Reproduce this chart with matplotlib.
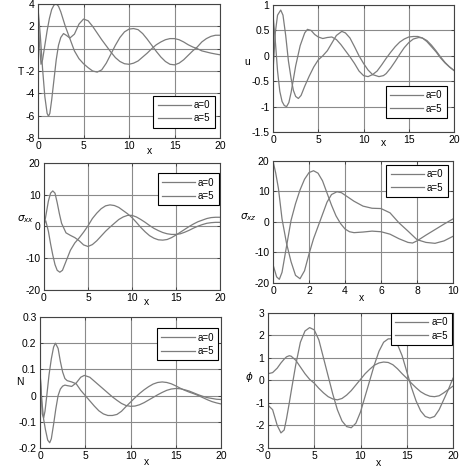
import numpy as np
import matplotlib
matplotlib.use('Agg')
from matplotlib import pyplot as plt
from matplotlib.ticker import FuncFormatter

plt.rcParams['font.family'] = ['Liberation Sans', 'DejaVu Sans']
plt.rcParams['axes.unicode_minus'] = False
plt.rcParams['mathtext.fontset'] = 'dejavusans'

# ---- values ----
# T
t_x_a = [0, 0.15, 0.33, 0.5, 0.75, 1, 1.25, 1.5, 1.75, 2, 2.25, 2.5, 3, 3.5, 4, 4.5, 5, 5.5, 6, 6.5,
         7, 7.5, 8, 8.5, 9, 9.5, 10, 10.5, 11, 11.5, 12, 12.5, 13, 13.5, 14, 14.5, 15, 15.5, 16, 16.5,
         17, 17.5, 18, 18.5, 19, 19.5, 20]
t_a = [3.6, 0.5, -1.4, -1.0, 0.3, 1.6, 2.7, 3.5, 3.9, 4.0, 3.8, 3.3, 2.0, 0.9, -0.2, -0.9, -1.35, -1.7, -2.0, -2.1,
       -1.9, -1.3, -0.5, 0.3, 1.0, 1.5, 1.75, 1.8, 1.7, 1.35, 0.85, 0.3, -0.25, -0.75, -1.15, -1.4, -1.45, -1.3, -1.0, -0.6,
       -0.2, 0.15, 0.6, 0.9, 1.1, 1.2, 1.2]
t_x_b = [0, 0.25, 0.5, 0.75, 1, 1.15, 1.3, 1.5, 1.75, 2, 2.25, 2.5, 2.8, 3.1, 3.5, 4, 4.5, 5, 5.5, 6,
         6.5, 7, 7.5, 8, 8.5, 9, 9.5, 10, 10.5, 11, 11.5, 12, 12.5, 13, 13.5, 14, 14.5, 15, 15.5, 16,
         16.5, 17, 17.5, 18, 18.5, 19, 19.5, 20]
t_b = [3.6, 1.2, -1.8, -4.3, -5.8, -6.05, -5.8, -4.6, -2.8, -1.0, 0.3, 1.0, 1.35, 1.2, 0.95, 1.3, 2.2, 2.65, 2.5, 2.0,
       1.4, 0.8, 0.25, -0.3, -0.8, -1.15, -1.35, -1.4, -1.3, -1.1, -0.75, -0.4, 0.0, 0.35, 0.6, 0.8, 0.9, 0.9, 0.8, 0.6,
       0.35, 0.15, 0.0, -0.2, -0.3, -0.4, -0.48, -0.55]

# u
u_x_p = [0, 0.25, 0.5, 0.75, 1, 1.25, 1.5, 1.75, 2, 2.5, 3, 3.5, 3.8, 4.2, 4.6, 5, 5.5, 6, 6.5, 7,
         7.5, 8, 8.5, 9, 9.5, 10, 10.5, 11, 11.5, 12, 12.5, 13, 13.5, 14, 14.5, 15, 15.5, 16, 16.5, 17,
         17.5, 18, 18.5, 19, 19.5, 20]
u_p = [0.8, 0.3, -0.3, -0.7, -0.9, -0.98, -1.0, -0.92, -0.72, -0.2, 0.2, 0.45, 0.52, 0.5, 0.42, 0.37, 0.34, 0.36, 0.37, 0.32,
       0.22, 0.1, -0.02, -0.15, -0.3, -0.39, -0.41, -0.37, -0.3, -0.18, -0.05, 0.07, 0.18, 0.27, 0.33, 0.37, 0.38, 0.38, 0.35, 0.28,
       0.18, 0.08, -0.04, -0.14, -0.22, -0.29]
u_x_q = [0, 0.25, 0.5, 0.85, 1.1, 1.4, 1.7, 2, 2.25, 2.5, 2.8, 3.1, 3.5, 4, 4.5, 5, 5.5, 6, 6.5, 7,
         7.6, 8, 8.5, 9, 9.5, 10, 10.5, 11, 11.7, 12.2, 12.5, 13, 13.5, 14, 14.5, 15, 15.5, 16.1, 16.5, 17,
         17.5, 18, 18.5, 19, 19.5, 20]
u_q = [-0.3, 0.45, 0.8, 0.9, 0.8, 0.4, -0.1, -0.45, -0.68, -0.8, -0.84, -0.78, -0.6, -0.4, -0.22, -0.08, 0.0, 0.1, 0.25, 0.4,
       0.48, 0.45, 0.35, 0.18, 0.0, -0.15, -0.28, -0.37, -0.41, -0.39, -0.35, -0.24, -0.11, 0.03, 0.16, 0.26, 0.33, 0.36, 0.35, 0.3,
       0.21, 0.1, -0.02, -0.13, -0.22, -0.29]

# sigma_xx
sxx_x_a = [0, 0.25, 0.5, 0.75, 1, 1.25, 1.5, 1.75, 2, 2.5, 3, 3.5, 4, 4.5, 5, 5.5, 6, 6.5, 7, 7.5,
           8, 8.5, 9, 9.5, 10, 10.5, 11, 11.5, 12, 12.5, 13, 13.5, 14, 14.5, 15, 15.5, 16, 16.5, 17, 17.5,
           18, 18.5, 19, 19.5, 20]
sxx_a = [0, 4, 8, 10.5, 11.2, 10.5, 7.5, 4, 1, -2, -2.8, -3.5, -4.5, -5.8, -6.3, -5.7, -4.5, -3.0, -1.5, -0.2,
         1.0, 2.2, 3.0, 3.5, 3.5, 3.0, 2.2, 1.3, 0.3, -0.6, -1.3, -1.9, -2.3, -2.5, -2.5, -2.3, -1.8, -1.2, -0.5, 0.1,
         0.6, 1.0, 1.2, 1.3, 1.3]
sxx_x_b = [0, 0.2, 0.5, 0.75, 1, 1.25, 1.5, 1.8, 2.1, 2.5, 3, 3.5, 4, 4.5, 5, 5.5, 6, 6.5, 7, 7.5,
           8, 8.5, 9, 9.5, 10, 10.5, 11, 11.5, 12, 12.5, 13, 13.5, 14, 14.5, 15, 15.5, 16, 16.5, 17, 17.5,
           18, 18.5, 19, 19.5, 20]
sxx_b = [1.0, 1.8, -1.5, -5.5, -9.0, -12.0, -13.8, -14.4, -13.8, -11.0, -7.5, -5.2, -3.6, -1.8, 0.2, 2.5, 4.2, 5.6, 6.5, 6.8,
         6.6, 6.0, 5.0, 4.0, 2.8, 1.3, -0.3, -1.7, -2.9, -3.7, -4.2, -4.3, -4.1, -3.5, -2.7, -1.8, -0.9, 0.0, 0.8, 1.5,
         2.0, 2.5, 2.8, 2.9, 2.9]

# sigma_xz
sxz_x_y = [0, 0.15, 0.3, 0.5, 0.75, 1, 1.25, 1.5, 1.75, 2, 2.25, 2.5, 2.75, 3, 3.25, 3.55, 3.8, 4, 4.5, 5,
           5.5, 6, 6.5, 7, 7.5, 8, 8.5, 9, 9.5, 10]
sxz_y = [20, 16, 11, 1, -7, -13, -17.5, -18.6, -16, -10.5, -5.5, -1.5, 2.5, 6.5, 9.0, 9.9, 9.6, 8.8, 6.8, 5.2,
         4.5, 4.4, 3.0, -0.3, -3.0, -5.8, -6.7, -7.0, -6.2, -4.7]
sxz_x_x = [0, 0.2, 0.35, 0.5, 0.75, 1, 1.25, 1.5, 1.75, 2, 2.25, 2.5, 2.75, 3, 3.25, 3.5, 3.75, 4, 4.25, 4.5,
           5, 5.5, 6, 6.5, 7, 7.5, 7.75, 8, 8.5, 9, 9.5, 10]
sxz_x = [-14, -18, -18.8, -16.5, -8, 0.5, 6, 10.5, 14, 16.2, 16.8, 16, 13.5, 9.5, 5.5, 2, -0.5, -2.3, -3.2, -3.5,
         -3.3, -3.0, -3.2, -4.0, -5.5, -6.7, -6.9, -6.2, -4.3, -2.5, -0.7, 1.0]

# N
n_x_1 = [0, 0.15, 0.25, 0.4, 0.55, 0.75, 1, 1.25, 1.5, 1.7, 2, 2.25, 2.5, 2.75, 3, 3.5, 4, 4.5, 5, 5.5,
         6, 6.5, 7, 7.5, 8, 8.5, 9, 9.5, 10, 10.5, 11, 11.5, 12, 12.5, 13, 13.5, 14, 14.5, 15, 15.5,
         16, 16.5, 17, 17.5, 18, 18.5, 19, 19.5, 20]
n_1 = [0.09, 0.0, -0.07, -0.085, -0.06, 0.0, 0.08, 0.14, 0.185, 0.2, 0.18, 0.13, 0.09, 0.065, 0.057, 0.052, 0.045, 0.02, 0.0, -0.02,
       -0.04, -0.058, -0.07, -0.076, -0.076, -0.072, -0.06, -0.042, -0.025, -0.008, 0.008, 0.022, 0.034, 0.044, 0.05, 0.052, 0.05, 0.045, 0.037, 0.028,
       0.02, 0.013, 0.007, 0.0, -0.008, -0.016, -0.023, -0.028, -0.032]
n_x_2 = [0, 0.2, 0.4, 0.6, 0.85, 1.07, 1.25, 1.5, 1.75, 2, 2.25, 2.5, 2.75, 3, 3.5, 4, 4.5, 4.9, 5.5, 6,
         6.5, 7, 7.5, 8, 8.5, 9, 9.5, 10, 10.5, 11, 11.5, 12, 12.5, 13, 13.5, 14, 14.5, 15, 15.5, 16,
         16.5, 17, 17.5, 18, 18.5, 19, 19.5, 20]
n_2 = [0.09, -0.02, -0.09, -0.13, -0.17, -0.18, -0.165, -0.11, -0.05, 0.0, 0.025, 0.036, 0.04, 0.038, 0.035, 0.048, 0.07, 0.077, 0.07, 0.055,
       0.04, 0.025, 0.01, -0.005, -0.018, -0.03, -0.038, -0.041, -0.04, -0.035, -0.027, -0.017, -0.007, 0.003, 0.012, 0.02, 0.025, 0.027, 0.026, 0.022,
       0.017, 0.01, 0.003, -0.003, -0.008, -0.011, -0.014, -0.015]

# phi
phi_x = [0, 0.5, 1, 1.4, 1.75, 2, 2.3, 2.5, 3, 3.5, 4, 4.5, 5, 5.5, 6, 6.5, 7, 7.5, 8, 8.5,
         9, 9.5, 10, 10.5, 11, 11.5, 12, 12.5, 13, 13.5, 14, 14.5, 15, 15.5, 16, 16.5, 17, 17.5, 18, 18.5,
         19, 19.5, 20]
phi_a = [-1.1, -1.3, -2.0, -2.33, -2.2, -1.7, -1.0, -0.5, 0.7, 1.7, 2.2, 2.35, 2.25, 1.8, 1.0, 0.2, -0.6, -1.3, -1.8, -2.05,
         -2.1, -1.9, -1.4, -0.7, 0.0, 0.7, 1.3, 1.7, 1.85, 1.85, 1.6, 1.1, 0.4, -0.3, -0.9, -1.35, -1.6, -1.67, -1.6, -1.3,
         -0.85, -0.4, 0.1]
phi_b = [0.3, 0.35, 0.55, 0.78, 0.95, 1.05, 1.1, 1.08, 0.9, 0.6, 0.3, 0.05, -0.12, -0.35, -0.55, -0.72, -0.82, -0.86, -0.8, -0.65,
         -0.45, -0.2, 0.05, 0.3, 0.5, 0.68, 0.78, 0.82, 0.8, 0.7, 0.52, 0.3, 0.1, -0.12, -0.32, -0.5, -0.62, -0.7, -0.72, -0.68,
         -0.55, -0.4, -0.25]

legend_labels = ['a=0', 'a=5']

line_c = '#7c7c7c'
grid_c = '#8a8a8a'
fmt = FuncFormatter(lambda v, p: '%g' % round(v, 6))


def draw_panel(fig, rect, curves, xlim, xticks, ylim, yticks, ylabel, ylab_xy, xlab_xy, leg_anchor):
    ax = fig.add_axes(rect)
    lines = []
    for xs, ys in curves:
        ln, = ax.plot(xs, ys, color=line_c, lw=0.9)
        lines.append(ln)
    ax.set_xlim(xlim)
    ax.set_ylim(ylim)
    ax.set_xticks(xticks)
    ax.set_yticks(yticks)
    ax.xaxis.set_major_formatter(fmt)
    ax.yaxis.set_major_formatter(fmt)
    ax.grid(True, color=grid_c, lw=0.8, ls='-')
    ax.set_axisbelow(True)
    ax.tick_params(direction='in', top=True, right=True, length=2.5, width=0.7,
                   color='#444444', labelsize=7.5, pad=2.5)
    for s in ax.spines.values():
        s.set_color('#444444')
        s.set_linewidth(0.8)
    ax.set_xlabel('x', fontsize=7.5)
    ax.xaxis.set_label_coords(*xlab_xy)
    ax.set_ylabel(ylabel, fontsize=7.5, rotation=0, ha='center', va='center')
    ax.yaxis.set_label_coords(*ylab_xy)
    leg = ax.legend(lines, legend_labels, loc='upper right', bbox_to_anchor=leg_anchor,
                    borderaxespad=0, fontsize=7, handlelength=3.4, handletextpad=0.3,
                    borderpad=0.45, labelspacing=0.35, fancybox=False, framealpha=1)
    leg.get_frame().set_edgecolor('black')
    leg.get_frame().set_linewidth(0.8)
    leg.set_zorder(10)
    return ax


fig = plt.figure(figsize=(4.74, 4.74), dpi=100)

draw_panel(fig, [0.0802, 0.7089, 0.384, 0.2827], [(t_x_a, t_a), (t_x_b, t_b)],
           (0, 20), [0, 5, 10, 15, 20], (-8, 4), [-8, -6, -4, -2, 0, 2, 4], 'T',
           (-0.095, 0.495), (0.615, -0.06), (0.97, 0.316))
draw_panel(fig, [0.576, 0.7215, 0.3819, 0.268], [(u_x_p, u_p), (u_x_q, u_q)],
           (0, 20), [0, 5, 10, 15, 20], (-1.5, 1), [-1.5, -1, -0.5, 0, 0.5, 1], 'u',
           (-0.144, 0.553), (0.61, -0.047), (0.961, 0.362))
draw_panel(fig, [0.0928, 0.3882, 0.3713, 0.268], [(sxx_x_a, sxx_a), (sxx_x_b, sxx_b)],
           (0, 20), [0, 5, 10, 15, 20], (-20, 20), [-20, -10, 0, 10, 20], r'$\sigma_{xx}$',
           (-0.102, 0.56), (0.583, -0.057), (0.994, 0.919))
draw_panel(fig, [0.576, 0.403, 0.3797, 0.2574], [(sxz_x_y, sxz_y), (sxz_x_x, sxz_x)],
           (0, 10), [0, 2, 4, 6, 8, 10], (-20, 20), [-20, -10, 0, 10, 20], r'$\sigma_{xz}$',
           (-0.137, 0.543), (0.49, -0.082), (0.97, 0.967))
draw_panel(fig, [0.0844, 0.0549, 0.3819, 0.2764], [(n_x_1, n_1), (n_x_2, n_2)],
           (0, 20), [0, 5, 10, 15, 20], (-0.2, 0.3), [-0.2, -0.1, 0, 0.1, 0.2, 0.3], 'N',
           (-0.11, 0.506), (0.59, -0.069), (0.985, 0.914))
draw_panel(fig, [0.5654, 0.0549, 0.3903, 0.2848], [(phi_x, phi_a), (phi_x, phi_b)],
           (0, 20), [0, 5, 10, 15, 20], (-3, 3), [-3, -2, -1, 0, 1, 2, 3], r'$\phi$',
           (-0.099, 0.528), (0.595, -0.074), (0.995, 1.0))

fig.savefig('out.png', dpi=100)
